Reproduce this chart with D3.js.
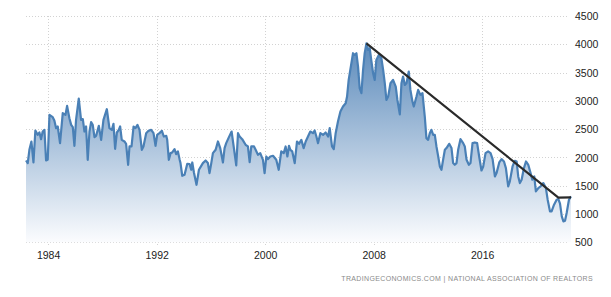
<!DOCTYPE html>
<html>
<head>
<meta charset="utf-8">
<script src="https://cdn.jsdelivr.net/npm/d3@7"></script>
<style>
  html, body { margin: 0; padding: 0; background: #fff; }
  #main { width: 611px; height: 297px; }
  .tick-label { font-family: "Liberation Sans", Arial, sans-serif; font-size: 10.5px; fill: #222; }
  .source { font-family: "Liberation Sans", Arial, sans-serif; font-size: 7px; fill: #8a8a8a; letter-spacing: 0.35px; }
</style>
</head>
<body>
<div id="main"></div>
<script>
// data (thousands of homes, decimal year)
const inventoryYears = [
  1982.37, 1982.50, 1982.62, 1982.77, 1982.92, 1983.06, 1983.23, 1983.36, 1983.48, 1983.60,
  1983.73, 1983.85, 1983.97, 1984.10, 1984.34, 1984.46, 1984.59, 1984.71, 1984.88, 1985.08,
  1985.28, 1985.40, 1985.57, 1985.70, 1985.82, 1985.94, 1986.06, 1986.26, 1986.43, 1986.56,
  1986.68, 1986.80, 1986.92, 1987.05, 1987.17, 1987.29, 1987.42, 1987.54, 1987.74, 1987.91,
  1988.08, 1988.33, 1988.52, 1988.70, 1988.82, 1988.94, 1989.07, 1989.21, 1989.31, 1989.43,
  1989.63, 1989.75, 1989.90, 1990.00, 1990.15, 1990.30, 1990.44, 1990.59, 1990.74, 1990.91,
  1991.03, 1991.23, 1991.40, 1991.60, 1991.77, 1991.92, 1992.04, 1992.21, 1992.39, 1992.53,
  1992.71, 1992.78, 1992.90, 1993.03, 1993.15, 1993.32, 1993.44, 1993.57, 1993.69, 1993.76,
  1993.89, 1994.06, 1994.26, 1994.43, 1994.55, 1994.63, 1994.75, 1994.94, 1995.12, 1995.41,
  1995.61, 1995.78, 1995.90, 1996.03, 1996.15, 1996.35, 1996.52, 1996.69, 1996.89, 1997.01,
  1997.13, 1997.33, 1997.53, 1997.68, 1997.87, 1998.00, 1998.12, 1998.31, 1998.56, 1998.73,
  1998.86, 1998.98, 1999.18, 1999.30, 1999.47, 1999.64, 1999.84, 1999.96, 2000.09, 2000.21,
  2000.38, 2000.58, 2000.82, 2001.00, 2001.19, 2001.37, 2001.51, 2001.64, 2001.76, 2001.86,
  2002.00, 2002.18, 2002.35, 2002.50, 2002.67, 2002.84, 2002.99, 2003.16, 2003.33, 2003.53,
  2003.65, 2003.78, 2003.90, 2004.07, 2004.27, 2004.46, 2004.64, 2004.76, 2004.93, 2005.06,
  2005.20, 2005.37, 2005.55, 2005.74, 2005.94, 2006.04, 2006.16, 2006.36, 2006.48, 2006.61,
  2006.73, 2006.85, 2006.97, 2007.10, 2007.22, 2007.34, 2007.47, 2007.59, 2007.71, 2007.84,
  2007.96, 2008.08, 2008.20, 2008.38, 2008.57, 2008.70, 2008.82, 2008.94, 2009.07, 2009.24,
  2009.43, 2009.63, 2009.75, 2009.93, 2010.05, 2010.17, 2010.30, 2010.42, 2010.59, 2010.71,
  2010.86, 2010.96, 2011.16, 2011.28, 2011.45, 2011.60, 2011.77, 2011.89, 2012.02, 2012.14,
  2012.26, 2012.39, 2012.51, 2012.63, 2012.76, 2012.88, 2013.00, 2013.12, 2013.25, 2013.37,
  2013.57, 2013.74, 2013.86, 2013.98, 2014.11, 2014.23, 2014.40, 2014.60, 2014.72, 2014.85,
  2015.02, 2015.14, 2015.29, 2015.46, 2015.63, 2015.78, 2015.95, 2016.08, 2016.25, 2016.44,
  2016.62, 2016.77, 2016.94, 2017.06, 2017.26, 2017.43, 2017.61, 2017.75, 2017.92, 2018.04,
  2018.24, 2018.41, 2018.54, 2018.66, 2018.78, 2018.91, 2019.08, 2019.23, 2019.40, 2019.57,
  2019.70, 2019.84, 2019.96, 2020.14, 2020.31, 2020.51, 2020.70, 2020.83, 2021.00, 2021.12,
  2021.30, 2021.49, 2021.62, 2021.74, 2021.87, 2021.99, 2022.11, 2022.23, 2022.40, 2022.55
];
const inventoryValues = [
  1946, 1900, 2135, 2281, 1911, 2476, 2400, 2441, 2323, 2458,
  2488, 1946, 1958, 2753, 2712, 2652, 2518, 2547, 2253, 2782,
  2753, 2912, 2694, 2576, 2535, 2206, 2664, 3040, 2664, 2677,
  2458, 2547, 1958, 2458, 2624, 2576, 2359, 2382, 2559, 2311,
  2664, 2853, 2518, 2488, 2594, 2153, 2441, 2488, 2547, 2311,
  2282, 2241, 1870, 2194, 2194, 2547, 2518, 2576, 2488, 2135,
  2194, 2429, 2470, 2488, 2429, 2206, 2400, 2429, 2470, 2370,
  2382, 2311, 1958, 2076, 2088, 2147, 2059, 2106, 1970, 1900,
  1676, 1694, 1888, 1882, 1782, 1911, 1734, 1517, 1782, 1900,
  1946, 1900, 1723, 1900, 2076, 2135, 2282, 2165, 1911, 2165,
  2253, 2359, 2458, 2194, 1858, 2429, 2370, 2323, 2224, 2194,
  1917, 2194, 2194, 2135, 2047, 2076, 1958, 1723, 2017, 1970,
  2017, 2029, 1958, 1782, 2106, 2076, 2194, 2017, 2206, 2135,
  2106, 1900, 2282, 2241, 2311, 2165, 2282, 2370, 2458, 2429,
  2476, 2370, 2253, 2429, 2400, 2441, 2370, 2518, 2194, 2147,
  2429, 2635, 2812, 2900, 2959, 3076, 3370, 3665, 3842, 3812,
  3842, 3606, 3224, 3135, 3547, 3842, 4018, 3900, 3930, 3694,
  3488, 3370, 3724, 3812, 3753, 3547, 3312, 3017, 3076, 3312,
  3370, 3253, 3017, 2760, 3312, 3430, 3282, 3312, 3518, 3194,
  2988, 2900, 3076, 3194, 3106, 3135, 2723, 2341, 2311, 2429,
  2488, 2400, 2400, 2194, 2017, 1841, 1782, 1958, 2135, 2165,
  2241, 2165, 1900, 1870, 1900, 2135, 2323, 2253, 2194, 1958,
  1870, 1900, 2253, 2265, 2253, 2017, 1770, 1841, 2076, 2106,
  2076, 1970, 1664, 1723, 1911, 1970, 1929, 1812, 1488, 1576,
  1841, 1941, 1929, 1664, 1547, 1606, 1812, 1929, 1870, 1723,
  1606, 1664, 1400, 1459, 1488, 1547, 1459, 1253, 1047, 1047,
  1164, 1253, 1265, 1182, 958, 870, 882, 1017, 1253, 1312
];
const trendYears = [2007.47, 2021.62, 2022.55];
const trendValues = [4018, 1290, 1295];
const xTickYears = [1984, 1992, 2000, 2008, 2016];
const yTickValues = [500, 1000, 1500, 2000, 2500, 3000, 3500, 4000, 4500];
const sourceLabel = 'TRADINGECONOMICS.COM | NATIONAL ASSOCIATION OF REALTORS';

!(function () {
  'use strict';

  let
    svg = undefined,
    canvas = {},
    xScale = undefined,
    yScale = undefined;

  canvas = {
    context: '#main',
    width: 611,
    height: 297,
    plot: { left: 26, right: 571, top: 16, bottom: 242.3, gridRight: 568 }
  };

  const series = inventoryYears.map((d, i) => ({ year: d, value: inventoryValues[i] }));
  const trend = trendYears.map((d, i) => ({ year: d, value: trendValues[i] }));

  function setCanvas() {
    svg = d3.select(canvas.context)
      .append('svg')
      .attr('width', canvas.width)
      .attr('height', canvas.height)
      .attr('viewBox', '0 0 ' + canvas.width + ' ' + canvas.height);
  }

  function setScales() {
    xScale = d3.scaleLinear()
      .domain([inventoryYears[0], inventoryYears[inventoryYears.length - 1]])
      .range([canvas.plot.left, canvas.plot.right]);
    yScale = d3.scaleLinear()
      .domain([500, 4500])
      .range([canvas.plot.bottom, canvas.plot.top]);
  }

  function setGrid() {
    const g = svg.append('g').attr('class', 'grid');
    g.selectAll('line.h')
      .data(yTickValues)
      .enter().append('line')
      .attr('class', 'h')
      .attr('x1', canvas.plot.left)
      .attr('x2', canvas.plot.gridRight)
      .attr('y1', d => Math.round(yScale(d)) + 0.5)
      .attr('y2', d => Math.round(yScale(d)) + 0.5)
      .attr('stroke', '#d2d2d2')
      .attr('stroke-dasharray', '1,2');
    g.selectAll('line.v')
      .data(xTickYears)
      .enter().append('line')
      .attr('class', 'v')
      .attr('x1', d => Math.round(xScale(d)) + 0.5)
      .attr('x2', d => Math.round(xScale(d)) + 0.5)
      .attr('y1', canvas.plot.top)
      .attr('y2', canvas.plot.bottom + 3)
      .attr('stroke', '#d2d2d2')
      .attr('stroke-dasharray', '1,2');
  }

  function setArea() {
    const grad = svg.append('defs').append('linearGradient')
      .attr('id', 'fillGrad')
      .attr('gradientUnits', 'userSpaceOnUse')
      .attr('x1', 0).attr('x2', 0)
      .attr('y1', canvas.plot.top).attr('y2', canvas.plot.bottom);
    grad.append('stop').attr('offset', '0%').attr('stop-color', '#467bb2');
    grad.append('stop').attr('offset', '100%').attr('stop-color', '#fbfcfe');

    svg.append('path')
      .datum(series)
      .attr('fill', 'url(#fillGrad)')
      .attr('d', d3.area()
        .x(d => xScale(d.year))
        .y0(canvas.plot.bottom)
        .y1(d => yScale(d.value)));

    svg.append('path')
      .datum(series)
      .attr('fill', 'none')
      .attr('stroke', '#4a80b6')
      .attr('stroke-width', 2.2)
      .attr('stroke-linejoin', 'round')
      .attr('d', d3.line()
        .x(d => xScale(d.year))
        .y(d => yScale(d.value)));
  }

  function setTrend() {
    svg.append('path')
      .datum(trend)
      .attr('fill', 'none')
      .attr('stroke', '#2a2a2a')
      .attr('stroke-width', 2.2)
      .attr('stroke-linejoin', 'round')
      .attr('d', d3.line()
        .x(d => xScale(d.year))
        .y(d => yScale(d.value)));
  }

  function setAxes() {
    const xAxis = svg.append('g')
      .attr('transform', 'translate(0,' + (canvas.plot.bottom + 14) + ')')
      .call(d3.axisBottom(xScale).tickValues(xTickYears).tickFormat(d3.format('d')).tickSize(0));
    xAxis.select('.domain').remove();
    xAxis.selectAll('text').attr('class', 'tick-label').attr('fill', null).attr('dy', 0);

    const yAxis = svg.append('g')
      .attr('transform', 'translate(' + (canvas.plot.right + 4) + ',0)')
      .call(d3.axisRight(yScale).tickValues(yTickValues).tickFormat(d3.format('d')).tickSize(0));
    yAxis.select('.domain').remove();
    yAxis.selectAll('text').attr('class', 'tick-label').attr('fill', null).attr('x', 0).attr('dy', '0.35em');
  }

  function setSource() {
    svg.append('text')
      .attr('class', 'source')
      .attr('x', 593)
      .attr('y', 281)
      .attr('text-anchor', 'end')
      .text(sourceLabel);
  }

  setCanvas();
  setScales();
  setGrid();
  setArea();
  setTrend();
  setAxes();
  setSource();
}());
</script>
</body>
</html>
